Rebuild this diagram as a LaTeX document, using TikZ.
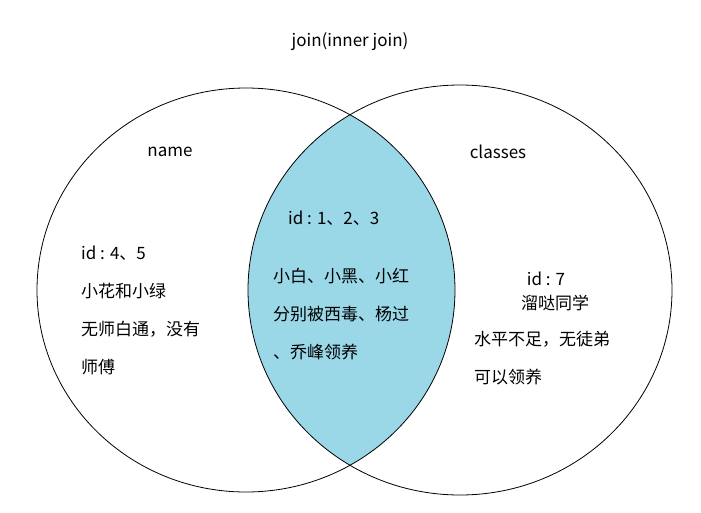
\documentclass[tikz,border=0pt]{standalone}
\usepackage{fontspec}
\setmainfont{Noto Sans CJK SC}
\definecolor{lens}{HTML}{9AD8E8}
\begin{document}
\begin{tikzpicture}[x=1pt,y=-1pt,
  lbl/.style={font=\fontsize{17}{38}\selectfont,align=left,anchor=west,inner sep=0pt},
  circ/.style={draw=black,line width=0.8pt}]
\useasboundingbox (0,0) rectangle (701,512);
\begin{scope}
\clip (246,290) ellipse (209 and 202);
\fill[lens] (460,290) ellipse (212 and 205);
\end{scope}
\draw[circ] (246,290) ellipse (209 and 202);
\draw[circ] (460,290) ellipse (212 and 205);
\node[lbl,anchor=center] (t) at (350,42) {join(inner join)};
\node[lbl,anchor=center] (n) at (170,152) {name};
\node[lbl,anchor=center] (c) at (498,152) {classes};
\node[lbl] (a) at (81,253) {id : 4、5};
\node[lbl] (b) at (81,329) {小花和小绿\\无师白通，没有\\师傅};
\node[lbl] (m1) at (288,218) {id : 1、2、3};
\node[lbl] (m2) at (273,314) {小白、小黑、小红\\分别被西毒、杨过\\、乔峰领养};
\node[lbl,anchor=center] (r1) at (546,279) {id : 7};
\node[lbl,anchor=center] (r2) at (555,303) {溜哒同学};
\node[lbl] (r3) at (474,358) {水平不足，无徒弟\\可以领养};
\end{tikzpicture}
\end{document}
